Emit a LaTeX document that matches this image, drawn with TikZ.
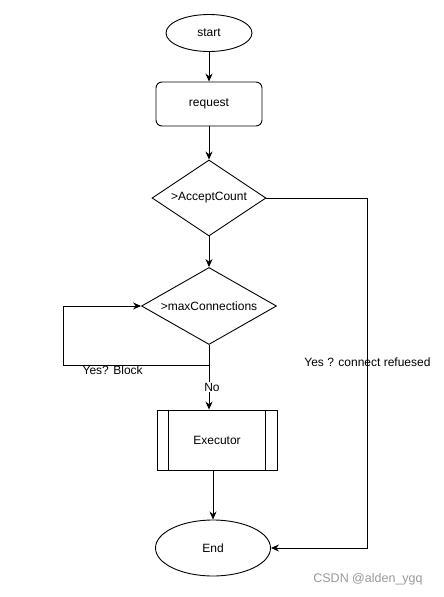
\documentclass[tikz,border=0pt]{standalone}
\usepackage{fontspec}
\setmainfont{Liberation Sans}
\usetikzlibrary{shapes.geometric, positioning, calc, arrows.meta}
\tikzstyle{term} = [draw, ellipse, inner sep=0pt]
\tikzstyle{block} = [draw, rounded corners=6pt, minimum width=106pt,
        minimum height=44pt]
\tikzstyle{decision} = [draw, diamond, inner sep=0pt]
\tikzset{subproc/.style={draw, minimum width=120pt, minimum height=60pt,
    append after command={
    ([xshift=12pt]\tikzlastnode.north west) edge ([xshift=12pt]\tikzlastnode.south west)
    ([xshift=-12pt]\tikzlastnode.north east) edge ([xshift=-12pt]\tikzlastnode.south east)
        }
    }
}

\begin{document}
\begin{tikzpicture}[x=1pt, y=1pt, line width=0.9pt,
        >={Stealth[length=8pt,width=7pt]}, font=\fontsize{12}{14}\selectfont]
    \useasboundingbox (0,0) rectangle (444,-597);
    \node [term, minimum width=86pt, minimum height=37pt] (start) at (209,-33) {start};
    \node [block, below of=start, node distance=71pt] (req) {request};
    \node [decision, below of=req, node distance=94pt, shape aspect=1.5,
        minimum width=114pt, minimum height=76pt] (accept) {>AcceptCount};
    \node [decision, below of=accept, node distance=108pt, shape aspect=1.75,
        minimum width=135pt, minimum height=77pt] (maxconn) {>maxConnections};
    \node [subproc, below of=maxconn, node distance=134pt, xshift=8pt] (exec) {Executor};
    \node [term, below of=exec, node distance=108pt, xshift=-4pt,
        minimum width=115pt, minimum height=56pt] (stop) {End};
    \node [text=black!40, font=\fontsize{12.5}{14}\selectfont] (mark) at (368,-579) {CSDN @alden\_ygq};

    \draw[->] (start) -- (req);
    \draw[->] (req) -- (accept);
    \draw[->] (accept) -- (maxconn);
    \draw (maxconn.south) -- ++(0,-20) coordinate (split);
    \draw[->] (split) -- node[fill=white, inner sep=1pt, xshift=3pt] {No} (split |- exec.north);
    \draw[->] (split) -| node[pos=0.33, yshift=-5pt] {Yes? Block}
        ($(maxconn.west)+(-78,0)$) -- (maxconn.west);
    \draw[->] (exec.south -| stop.north) -- (stop.north);

    \draw[->] (accept.east) -- ++(101,0) coordinate (corner)
        |- node[pos=0.235] {Yes ? connect refuesed} (stop.east);
\end{tikzpicture}
\end{document}
